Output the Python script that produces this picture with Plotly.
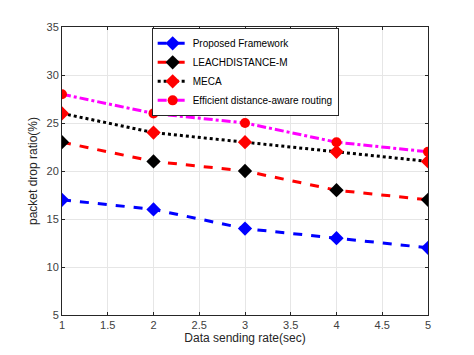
import plotly.graph_objects as go

x_rates = [1, 2, 3, 4, 5]
proposed = [17, 16, 14, 13, 12]
leach = [23, 21, 20, 18, 17]
meca = [26, 24, 23, 22, 21]
efficient = [28, 26, 25, 23, 22]
names = ["Proposed Framework", "LEACHDISTANCE-M", "MECA", "Efficient distance-aware routing"]

fig = go.Figure()
fig.add_trace(go.Scatter(x=x_rates, y=proposed, name=names[0], mode="lines+markers",
                         line=dict(color="blue", width=3, dash="dash"),
                         marker=dict(symbol="diamond", size=11, color="blue")))
fig.add_trace(go.Scatter(x=x_rates, y=leach, name=names[1], mode="lines+markers",
                         line=dict(color="red", width=3, dash="dash"),
                         marker=dict(symbol="diamond", size=11, color="black")))
fig.add_trace(go.Scatter(x=x_rates, y=meca, name=names[2], mode="lines+markers",
                         line=dict(color="black", width=3, dash="dot"),
                         marker=dict(symbol="diamond", size=11, color="red")))
fig.add_trace(go.Scatter(x=x_rates, y=efficient, name=names[3], mode="lines+markers",
                         line=dict(color="magenta", width=3, dash="dashdot"),
                         marker=dict(symbol="circle", size=10, color="red")))

axis_common = dict(showgrid=True, gridcolor="#e6e6e6", gridwidth=1, showline=True,
                   linecolor="#262626", linewidth=1, mirror="ticks", ticks="inside",
                   ticklen=3, tickcolor="#262626", tickfont=dict(size=11, color="#404040"),
                   zeroline=False)
fig.update_layout(
    width=466, height=347,
    margin=dict(l=54, r=46, t=19, b=40),
    paper_bgcolor="white", plot_bgcolor="white",
    font=dict(family="Liberation Sans, Arial, sans-serif", color="#262626"),
    xaxis=dict(range=[1, 5], dtick=0.5,
               title=dict(text="Data sending rate(sec)", font=dict(size=12), standoff=2),
               **axis_common),
    yaxis=dict(range=[5, 35], dtick=5,
               title=dict(text="packet drop ratio(%)", font=dict(size=12), standoff=6),
               **axis_common),
    legend=dict(x=0.245, y=0.997, xanchor="left", yanchor="top",
                bgcolor="white", bordercolor="#262626", borderwidth=1,
                font=dict(size=10, color="black"), tracegroupgap=0,
                itemwidth=30),
    showlegend=True,
)
fig.write_html("out.html")
